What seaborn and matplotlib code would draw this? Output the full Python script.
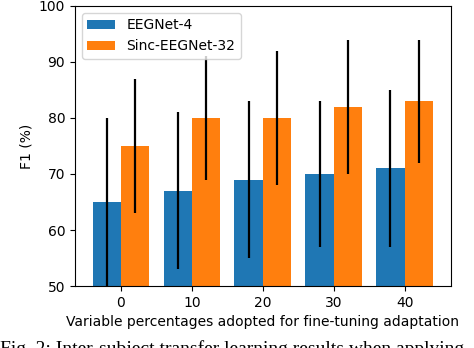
import matplotlib
matplotlib.use("Agg")
import matplotlib.pyplot as plt
import seaborn as sns
import pandas as pd
import numpy as np

categories = ["0", "10", "20", "30", "40"]
models = ["EEGNet-4", "Sinc-EEGNet-32"]
eegnet_mean = [65, 67, 69, 70, 71]
eegnet_err = [15, 14, 14, 13, 14]
sinc_mean = [75, 80, 80, 82, 83]
sinc_err = [12, 11, 12, 12, 11]

df = pd.DataFrame({
    "pct": categories * 2,
    "model": [models[0]] * len(categories) + [models[1]] * len(categories),
    "f1": eegnet_mean + sinc_mean,
})
errs = {models[0]: eegnet_err, models[1]: sinc_err}
means = {models[0]: eegnet_mean, models[1]: sinc_mean}

plt.rcParams["font.family"] = ["DejaVu Sans"]
fig = plt.figure(figsize=(4.74, 3.48), dpi=100)
ax = fig.add_axes([0.158, 0.178, 0.793, 0.805])

sns.barplot(data=df, x="pct", y="f1", hue="model", order=categories,
            hue_order=models, palette=["#1f77b4", "#ff7f0e"], saturation=1,
            errorbar=None, width=0.8, ax=ax)

for cont, m in zip(ax.containers, models):
    xs = [p.get_x() + p.get_width() / 2 for p in cont.patches]
    ax.errorbar(xs, means[m], yerr=errs[m], fmt="none", ecolor="black",
                elinewidth=1.6, capsize=0, zorder=3)

ax.set_ylim(50, 100)
ax.set_xlim(-0.65, 4.65)
ax.set_yticks([50, 60, 70, 80, 90, 100])
ax.tick_params(labelsize=10)
ax.set_xlabel("Variable percentages adopted for fine-tuning adaptation", fontsize=10)
ax.set_ylabel("F1 (%)", fontsize=10)
ax.legend(loc="upper left", fontsize=10, title=None)

fig.text(0.0, 0.024, "Fig. 2: Inter-subject transfer learning results when applying",
         family="Liberation Serif", fontsize=14, va="top", ha="left")

fig.savefig("out.png", dpi=100)
